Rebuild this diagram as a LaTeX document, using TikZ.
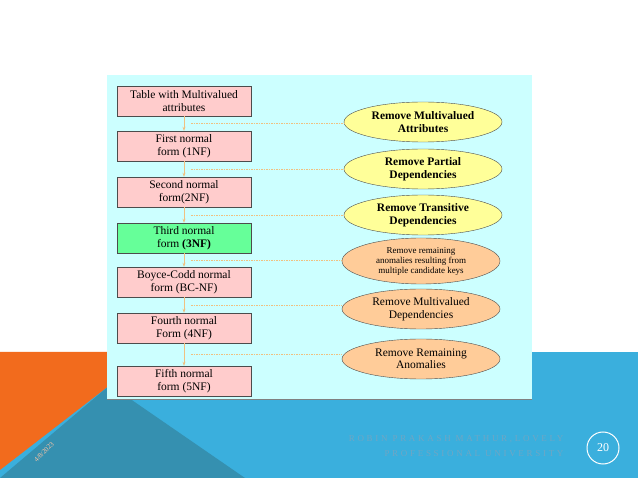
\documentclass[tikz,border=0pt]{standalone}
\usepackage{fontspec}
\setmainfont{Liberation Serif}
\usetikzlibrary{shapes.geometric,arrows.meta}
\definecolor{bblue}{HTML}{3AAFDD}
\definecolor{teal2}{HTML}{3590B0}
\definecolor{orng}{HTML}{F26B1D}
\definecolor{panel}{HTML}{CCFFFF}
\definecolor{pinkb}{HTML}{FFCCCC}
\definecolor{greenb}{HTML}{66FF99}
\definecolor{yell}{HTML}{FFFF99}
\definecolor{peach}{HTML}{FFCC99}
\definecolor{arr}{HTML}{F0C080}
\definecolor{foot}{HTML}{6FA6C4}
\tikzset{
  nf/.style={draw=black!70, fill=pinkb, minimum width=134pt, minimum height=30pt, align=center, font=\fontsize{11.5}{12.5}\selectfont, inner sep=1pt},
  op/.style={ellipse, draw=black!70, minimum width=158pt, minimum height=40pt, align=center, inner sep=0pt},
  dl/.style={draw=arr, dashed, dash pattern=on 1.5pt off 1pt, line width=0.8pt},
  va/.style={draw=arr, line width=0.6pt, -{Stealth[length=4pt]}}
}
\begin{document}
\begin{tikzpicture}[x=1pt,y=-1pt]
\useasboundingbox (0,0) rectangle (638,478);
\fill[white] (0,0) rectangle (638,478);
\fill[bblue] (0,352) rectangle (638,478);
\fill[orng] (0,352) -- (110,352) -- (110,385) -- (0,470) -- cycle;
\fill[teal2] (0,478) -- (110,385) -- (245,478) -- cycle;
\fill[panel] (107,75) rectangle (532,400);
\draw[gray,line width=1pt] (107,400) -- (532,400);
\node[nf] (a) at (184,101) {Table with Multivalued\\attributes};
\node[nf] (b) at (184,146) {First normal\\form (1NF)};
\node[nf] (c) at (184,192) {Second normal\\form(2NF)};
\node[nf,fill=greenb] (d) at (184,238) {Third normal\\form \textbf{(3NF)}};
\node[nf] (e) at (184,282) {Boyce-Codd normal\\form (BC-NF)};
\node[nf] (f) at (184,328) {Fourth normal\\Form (4NF)};
\node[nf] (g) at (184,381) {Fifth normal\\form (5NF)};
\node[op,fill=yell,font=\bfseries\fontsize{11.5}{12.5}\selectfont] (o1) at (423,122) {Remove Multivalued\\Attributes};
\node[op,fill=yell,font=\bfseries\fontsize{11.5}{12.5}\selectfont] (o2) at (423,169) {Remove Partial\\Dependencies};
\node[op,fill=yell,font=\bfseries\fontsize{11.5}{12.5}\selectfont] (o3) at (423,215) {Remove Transitive\\Dependencies};
\node[op,fill=peach,font=\fontsize{9}{10}\selectfont,minimum height=46pt] (o4) at (421,261) {Remove remaining\\anomalies resulting from\\multiple candidate keys};
\node[op,fill=peach,font=\fontsize{11.5}{12.5}\selectfont] (o5) at (421,309) {Remove Multivalued\\Dependencies};
\node[op,fill=peach,font=\fontsize{11.5}{12.5}\selectfont] (o6) at (421,359) {Remove Remaining\\Anomalies};
\foreach \u/\v/\o in {a/b/o1,b/c/o2,c/d/o3,d/e/o4,e/f/o5,f/g/o6}{
  \draw[va] (\u.south) -- (\v.north);
  \path (\u.south) -- (\v.north) coordinate[pos=0.5] (m\o);
  \draw[dl] ([xshift=7pt]m\o) -- (\o.west |- m\o);
}
\node[font=\fontsize{9}{15}\selectfont, text=foot, align=right, anchor=east] (ft) at (567,446) {\addfontfeatures{LetterSpace=30}ROBIN PRAKASH MATHUR,LOVELY\\\addfontfeatures{LetterSpace=30}PROFESSIONAL UNIVERSITY};
\node[circle, draw=white, line width=1pt, minimum size=32pt, text=white, font=\fontsize{12}{12}\selectfont] (pg) at (603,448) {20};
\node[rotate=45, text=white!60!orng, font=\fontsize{7}{8}\selectfont] (dt) at (44,452) {4/8/2023};
\end{tikzpicture}
\end{document}
